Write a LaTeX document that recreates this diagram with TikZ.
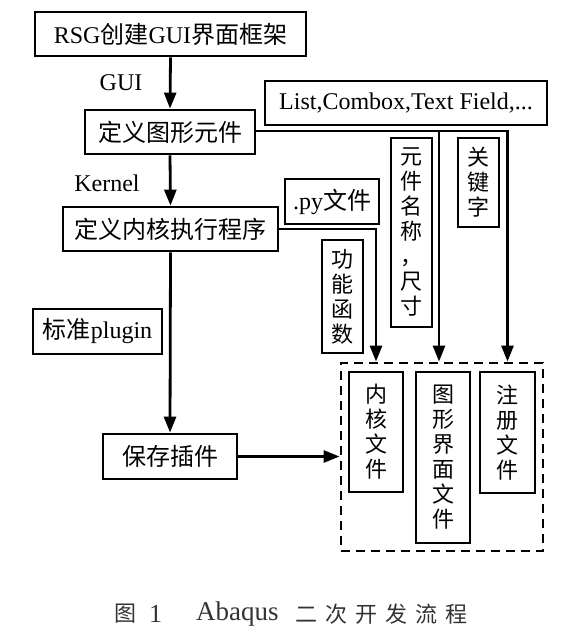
\documentclass[tikz,border=0pt]{standalone}
\usepackage{fontspec}
\setmainfont{Liberation Serif}
\newfontfamily\cjk{Noto Sans CJK SC}
\usetikzlibrary{arrows.meta}
\newcommand{\zh}[1]{{\cjk #1}}
\begin{document}
\begin{tikzpicture}[x=1pt,y=-1pt,
  box/.style={draw, line width=2.8pt, inner sep=0pt, font=\fontsize{24}{28}\selectfont},
  vbox/.style={draw, line width=2.8pt, inner sep=0pt, align=center, font=\cjk\fontsize{22}{25}\selectfont},
  arr/.style={line width=2.8pt, -{Triangle[length=16pt,width=12pt]}},
  lab/.style={inner sep=0pt, font=\fontsize{24}{28}\selectfont},
  captxt/.style={inner sep=0pt, anchor=west, text=black!80}]
\useasboundingbox (0,0) rectangle (586,640);
% main column
\node[box, minimum width=271pt, minimum height=44pt] (rsg) at (170.5,34) {RSG\zh{创建}GUI\zh{界面框架}};
\node[box, minimum width=170pt, minimum height=44pt] (gui) at (170,132) {\zh{定义图形元件}};
\node[box, minimum width=215pt, minimum height=44pt] (kern) at (170.5,229) {\zh{定义内核执行程序}};
\node[box, minimum width=129pt, minimum height=45pt] (std) at (97.5,331.5) {\zh{标准}plugin};
\node[box, minimum width=134pt, minimum height=45pt] (save) at (170,456.5) {\zh{保存插件}};
% labels
\node[lab] (lgui) at (121,83) {GUI};
\node[lab] (lker) at (107,183) {Kernel};
% right side
\node[box, minimum width=282pt, minimum height=44pt] (list) at (406,103) {List,Combox,Text Field,...};
\node[box, minimum width=94pt, minimum height=45pt] (py) at (332,201.5) {.py\zh{文件}};
\node[vbox, minimum width=41pt, minimum height=189pt] (name) at (411.5,232.5) {元\\件\\名\\称\\，\\尺\\寸};
\node[vbox, minimum width=41pt, minimum height=89pt] (key) at (478.5,182.5) {关\\键\\字};
\node[vbox, minimum width=41pt, minimum height=113pt] (func) at (342.5,296.5) {功\\能\\函\\数};
% output files
\node[draw, line width=2.8pt, dash pattern=on 9pt off 6pt, inner sep=0pt, minimum width=202pt, minimum height=188pt] (files) at (442,457) {};
\node[vbox, minimum width=54pt, minimum height=120pt] (nh) at (376,432) {内\\核\\文\\件};
\node[vbox, minimum width=54pt, minimum height=171pt] (tx) at (443,457.5) {图\\形\\界\\面\\文\\件};
\node[vbox, minimum width=55pt, minimum height=121pt] (zc) at (507.5,432.5) {注\\册\\文\\件};
% connectors
\draw[arr] (rsg.south) -- (gui.north);
\draw[arr] (gui.south) -- (kern.north);
\draw[arr] (kern.south) -- (save.north);
\draw[arr] (save.east) -- (save.east -| files.west);
\draw[arr] ([yshift=1pt]gui.east) -- ([yshift=1pt]gui.east -| zc.north) -- (zc.north |- files.north);
\draw[arr] ([yshift=1pt,xshift=-4pt]gui.east -| tx.north) -- ([xshift=-4pt]tx.north |- files.north);
\draw[arr] (kern.east) -- (kern.east -| nh.north) -- (nh.north |- files.north);
% caption
\node[captxt, font=\cjk\fontsize{22}{24}\selectfont] (c1) at (114,614) {图};
\node[captxt, font=\fontsize{26}{28}\selectfont] (c2) at (149,614) {1};
\node[captxt, font=\fontsize{27}{30}\selectfont] (c3) at (196,614) {Abaqus};
\node[captxt, font=\cjk\fontsize{22}{24}\selectfont] (c4) at (295,614) {二\hspace{8pt}次\hspace{8pt}开\hspace{8pt}发\hspace{8pt}流\hspace{8pt}程};
\end{tikzpicture}
\end{document}
